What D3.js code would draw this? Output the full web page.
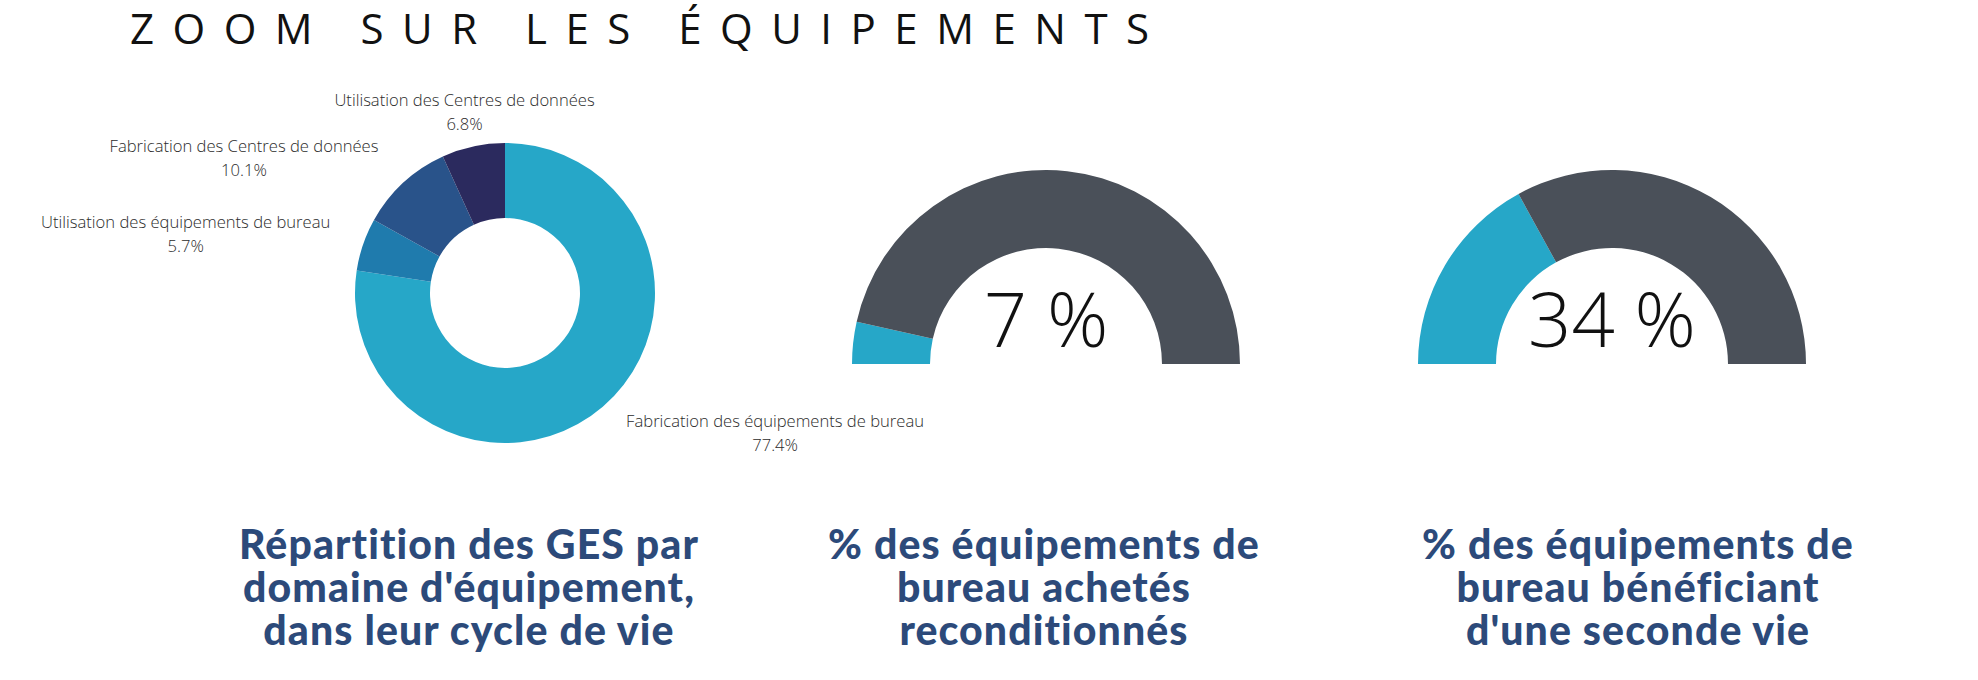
<!DOCTYPE html>
<html>
<head>
<meta charset="utf-8">
<script src="https://cdn.jsdelivr.net/npm/d3@7"></script>
<style>
  body { margin: 0; background: #fff; }
  svg { display: block; }
</style>
</head>
<body>
<svg id="chart"></svg>
<script>
// donut data
const domaines = [
  "Fabrication des équipements de bureau",
  "Utilisation des équipements de bureau",
  "Fabrication des Centres de données",
  "Utilisation des Centres de données"
];
const partsGES = [77.4, 5.7, 10.1, 6.8];
const couleurs = ["#26a7c8", "#1f7bad", "#29538a", "#2b2a5e"];

// gauges data
const jaugeValeurs = [7, 34];
const jaugeTextes = ["7 %", "34 %"];

const sousTitres = [
  ["Répartition des GES par", "domaine d'équipement,", "dans leur cycle de vie"],
  ["% des équipements de", "bureau achetés", "reconditionnés"],
  ["% des équipements de", "bureau bénéficiant", "d'une seconde vie"]
];

const width = 1978, height = 680;
const svg = d3.select("#chart").attr("width", width).attr("height", height);

// main title
svg.append("text")
  .attr("x", 130)
  .attr("y", 44)
  .attr("font-family", "Open Sans")
  .attr("font-size", 42)
  .attr("letter-spacing", 18.5)
  .attr("fill", "#111")
  .text("ZOOM SUR LES ÉQUIPEMENTS");

// ---- donut
const donut = svg.append("g").attr("transform", "translate(505,293)");
const pie = d3.pie().sort(null).value(d => d);
const arc = d3.arc().innerRadius(75).outerRadius(150);
const arcs = pie(partsGES);

donut.selectAll("path")
  .data(arcs)
  .enter()
  .append("path")
  .attr("d", arc)
  .attr("fill", (d, i) => couleurs[i]);

// labels outside, nudged a bit like the original layout
const labelR = 172;
const labelNudge = [[9, 4], [-12, -9], [-10, -15], [-4, -19]];
const labels = donut.selectAll("g.lbl")
  .data(arcs)
  .enter()
  .append("g")
  .attr("class", "lbl");

labels.each(function (d, i) {
  const g = d3.select(this);
  const a = (d.startAngle + d.endAngle) / 2;
  const px = Math.sin(a) * labelR, py = -Math.cos(a) * labelR;
  const t1 = g.append("text").attr("text-anchor", "middle").attr("y", 0).text(domaines[i]);
  g.append("text").attr("text-anchor", "middle").attr("y", 24).text(d3.format(".1f")(partsGES[i]) + "%");
  g.selectAll("text")
    .attr("font-family", "Open Sans")
    .attr("font-weight", 300)
    .attr("font-size", 16.6)
    .attr("fill", "#2b2b2b");
  const w = t1.node().getComputedTextLength();
  const side = Math.sin(a) > 0.3 ? 1 : (Math.sin(a) < -0.3 ? -1 : 0);
  const cx = px + side * w / 2 + labelNudge[i][0];
  const cy = py + labelNudge[i][1];
  g.attr("transform", `translate(${cx},${cy})`);
});

// ---- gauges
const jaugeCentres = [1046, 1612];
const gaugePie = d3.pie().sort(null).value(d => d)
  .startAngle(-Math.PI / 2).endAngle(Math.PI / 2);
const gaugeArc = d3.arc().innerRadius(116).outerRadius(194);

jaugeValeurs.forEach((v, k) => {
  const g = svg.append("g").attr("transform", `translate(${jaugeCentres[k]},364)`);
  g.selectAll("path")
    .data(gaugePie([v, 100 - v]))
    .enter()
    .append("path")
    .attr("d", gaugeArc)
    .attr("fill", (d, i) => i === 0 ? "#26a7c8" : "#4a5059");
  g.append("text")
    .attr("text-anchor", "middle")
    .attr("y", -17)
    .attr("font-family", "Open Sans")
    .attr("font-weight", 300)
    .attr("font-size", 76)
    .attr("fill", "#111")
    .text(jaugeTextes[k]);
});

// ---- bottom subtitles
const sousTitreX = [469, 1044, 1638];
sousTitres.forEach((lines, k) => {
  const t = svg.append("text")
    .attr("text-anchor", "middle")
    .attr("font-family", "Lato")
    .attr("font-weight", 900)
    .attr("font-size", 41)
    .attr("letter-spacing", 1.1)
    .attr("fill", "#2c4a7a");
  lines.forEach((l, j) => {
    t.append("tspan")
      .attr("x", sousTitreX[k])
      .attr("y", 559 + j * 43)
      .text(l);
  });
});
</script>
</body>
</html>
